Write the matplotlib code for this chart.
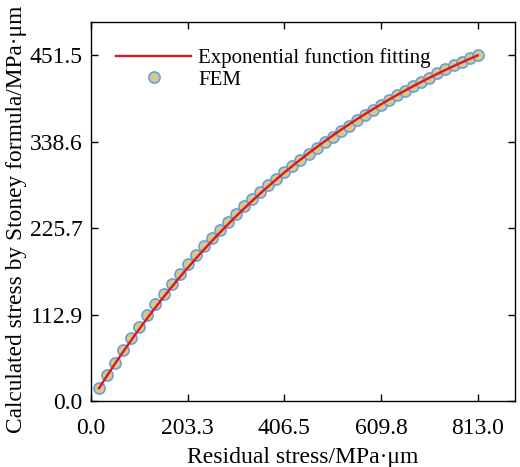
import numpy as np
import matplotlib
matplotlib.use("Agg")
import matplotlib.pyplot as plt

# ---- data ----
x_ticks = [0.0, 203.3, 406.5, 609.8, 813.0]
y_ticks = [0.0, 112.9, 225.7, 338.6, 451.5]
x_max = 813.0
n_points = 48
fem_x = [x_max * k / n_points for k in range(1, n_points + 1)]
fem_y = [17.4, 33.9, 50.2, 66.3, 81.9, 97.0, 111.8, 126.2, 140.0, 153.3,
         166.2, 178.6, 190.5, 202.0, 213.1, 223.9, 234.3, 244.4, 254.2, 263.6,
         272.8, 281.7, 290.4, 298.8, 307.0, 315.0, 322.8, 330.5, 338.0, 345.4,
         352.7, 359.8, 366.8, 373.6, 380.3, 386.8, 393.2, 399.4, 405.4, 411.3,
         417.0, 422.5, 427.9, 433.1, 438.2, 443.1, 447.8, 451.5]
# exponential fit y = A * (1 - exp(-x / B))
fit_A = 612.6
fit_B = 609.0

plt.rcParams['font.family'] = ['Liberation Serif', 'DejaVu Serif']

fig = plt.figure(figsize=(5.2, 4.67), dpi=100)
ax = fig.add_axes([0.175, 0.1413, 0.815, 0.8116])

fx = np.linspace(fem_x[0], fem_x[-1], 300)
fy = fit_A * (1 - np.exp(-fx / fit_B))
ax.plot(fx, fy, color='#d9191c', lw=1.7, label='Exponential function fitting', zorder=3)
ax.plot(fem_x, fem_y, linestyle='none', marker='o', markersize=8,
        markerfacecolor='#d6c891', markeredgecolor='#6a9fd8', markeredgewidth=1.2,
        label='FEM', zorder=2)

ax.set_xlim(0, 891)
ax.set_ylim(0, 495)
ax.set_xticks(x_ticks)
ax.set_xticklabels([f"{v:.1f}" for v in x_ticks])
ax.set_yticks(y_ticks)
ax.set_yticklabels([f"{v:.1f}" for v in y_ticks])
ax.tick_params(axis='both', direction='in', length=5, width=1, labelsize=17,
               top=True, right=True)
ax.tick_params(axis='x', pad=12)
ax.tick_params(axis='y', pad=6)
for s in ax.spines.values():
    s.set_linewidth(1.0)

ax.set_xlabel('Residual stress/MPa·μm', fontsize=17, labelpad=6)
ax.set_ylabel('Calculated stress by Stoney formula/MPa·μm', fontsize=16.8)
ax.yaxis.set_label_coords(-0.152, 0.48)

leg = ax.legend(loc='upper left', frameon=False, fontsize=15, handlelength=3.6,
                handletextpad=0.35, labelspacing=0.1, borderaxespad=0.3,
                bbox_to_anchor=(0.025, 0.97))

fig.savefig('out.png', dpi=100)
